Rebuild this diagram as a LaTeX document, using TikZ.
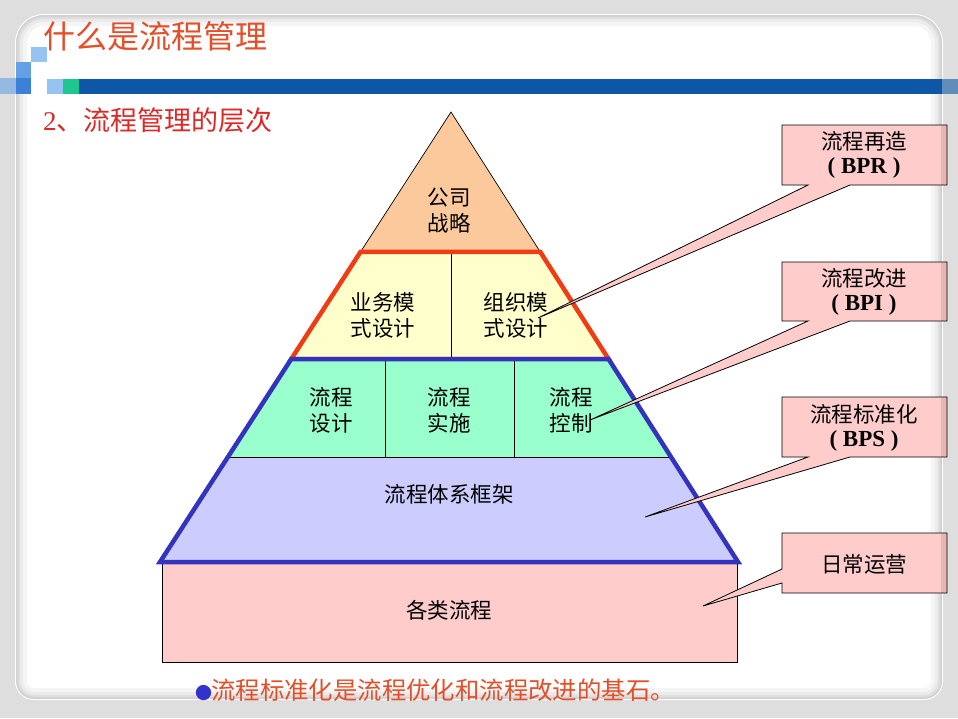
\documentclass[tikz,border=0pt]{standalone}
\usepackage{fontspec}
\setmainfont{Liberation Serif}
\newfontfamily\cjk{Noto Sans CJK SC}
\usetikzlibrary{calc}
\definecolor{bgchk}{RGB}{222,222,222}
\definecolor{titlered}{RGB}{228,78,40}
\definecolor{subred}{RGB}{222,40,40}
\definecolor{barblue}{RGB}{14,86,166}
\definecolor{sqlight}{RGB}{150,196,240}
\definecolor{sqmid}{RGB}{100,160,230}
\definecolor{sqblue}{RGB}{60,128,216}
\definecolor{sqgreen}{RGB}{28,200,142}
\definecolor{topor}{RGB}{251,201,156}
\definecolor{yelfill}{RGB}{255,255,204}
\definecolor{redline}{RGB}{240,60,20}
\definecolor{grnfill}{RGB}{153,255,204}
\definecolor{lavfill}{RGB}{204,204,255}
\definecolor{blueline}{RGB}{51,51,190}
\definecolor{pinkfill}{RGB}{255,204,204}
\definecolor{bulblue}{RGB}{51,51,204}
\begin{document}
\begin{tikzpicture}[x=1pt,y=-1pt,
  lbl/.style={font=\cjk\fontsize{21.5}{26}\selectfont, align=center, inner sep=0pt, text=black},
  clbl/.style={font=\fontsize{21.5}{24}\selectfont, align=center, inner sep=0pt, text=black},
  calloutbox/.style={fill=pinkfill, draw=black, line width=0.8pt, line join=miter},
  thinline/.style={draw=black, line width=0.7pt},
  boldline/.style={line width=4.5pt, line join=miter}]
\useasboundingbox (0,0) rectangle (958,718);
% background and panel
\fill[bgchk] (0,0) rectangle (958,718);
\def\panelpath{(16,400) [rounded corners=28pt] |- (479,15) -| (942,400) [rounded corners=18pt] |- (479,699) -| (16,400)}
\draw[white, line width=2pt, fill=white] \panelpath;
\begin{scope}
  \clip \panelpath;
  \draw[black, opacity=0.04, line width=22pt] \panelpath;
  \draw[black, opacity=0.04, line width=14pt] \panelpath;
  \draw[black, opacity=0.05, line width=8pt] \panelpath;
  \draw[black, opacity=0.05, line width=4pt] \panelpath;
\end{scope}
% decoration squares and bar
\fill[sqlight] (31,47) rectangle (47,62);
\fill[sqmid] (16,62) rectangle (31,78);
\fill[sqblue] (16,78) rectangle (31,94);
\fill[sqmid!60!bgchk] (0,78) rectangle (16,94);
\fill[sqlight] (47,79) rectangle (63,94);
\fill[sqgreen] (63,79) rectangle (79,94);
\fill[barblue] (79,79) rectangle (942,94);
\fill[barblue!60!bgchk] (942,79) rectangle (958,94);
% titles
\node[anchor=west, inner sep=0pt, text=titlered, font=\cjk\fontsize{32}{32}\selectfont] (title) at (43,36) {什么是流程管理};
\node[anchor=west, inner sep=0pt, text=subred, font=\fontsize{27}{27}\selectfont] (subtitle) at (43,120) {2{\cjk 、流程管理的层次}};
% pyramid geometry
\coordinate (apex) at (451,112);
\coordinate (bl) at (160,562);
\coordinate (br) at (738,562);
\coordinate (t1l) at ($(apex)!0.3111!(bl)$);
\coordinate (t1r) at ($(apex)!0.3111!(br)$);
\coordinate (t2l) at ($(apex)!0.5489!(bl)$);
\coordinate (t2r) at ($(apex)!0.5489!(br)$);
\coordinate (t3l) at ($(apex)!0.7667!(bl)$);
\coordinate (t3r) at ($(apex)!0.7667!(br)$);
% top triangle
\draw[thinline, fill=topor] (apex) -- (t1r) -- (t1l) -- cycle;
% red trapezoid
\fill[yelfill] (t1l) -- (t1r) -- (t2r) -- (t2l) -- cycle;
\coordinate (d1a) at (451,252);
\coordinate (d1b) at (451,359);
\draw[thinline] (d1a) -- (d1b);
\draw[boldline, draw=redline] (t1l) -- (t1r) -- (t2r) -- (t2l) -- cycle;
% blue trapezoid
\fill[grnfill] (t2l) -- (t2r) -- (t3r) -- (t3l) -- cycle;
\fill[lavfill] (t3l) -- (t3r) -- (br) -- (bl) -- cycle;
\draw[thinline] (t3l) -- (t3r);
\coordinate (d2a) at (385,359);
\coordinate (d2b) at (385,457);
\coordinate (d3a) at (514,359);
\coordinate (d3b) at (514,457);
\draw[thinline] (d2a) -- (d2b);
\draw[thinline] (d3a) -- (d3b);
% base rectangle
\draw[thinline, fill=pinkfill] (162,562) rectangle (737,662);
\draw[boldline, draw=blueline] (t2l) -- (t2r) -- (br) -- (bl) -- cycle;
% labels
\node[lbl] (strat) at (449,211) {公司\\战略};
\node[lbl] (yewu) at (383,315) {业务模\\式设计};
\node[lbl] (zuzhi) at (516,315) {组织模\\式设计};
\node[lbl] (lcsj) at (331,410) {流程\\设计};
\node[lbl] (lcss) at (449,410) {流程\\实施};
\node[lbl] (lckz) at (571,410) {流程\\控制};
\node[lbl] (tixi) at (449,494) {流程体系框架};
\node[lbl] (gelei) at (449,610) {各类流程};
% callouts
\coordinate (tipA) at (538,318);
\coordinate (tipB) at (590,420);
\coordinate (tipC) at (645,517);
\coordinate (tipD) at (703,606);
\path[calloutbox] (808,185) -- (782,185) -- (782,125) -- (947,125) -- (947,185) -- (850,185) -- (tipA) -- cycle;
\path[calloutbox] (808,321) -- (782,321) -- (782,262) -- (947,262) -- (947,321) -- (850,321) -- (tipB) -- cycle;
\path[calloutbox] (808,457) -- (782,457) -- (782,397) -- (947,397) -- (947,457) -- (850,457) -- (tipC) -- cycle;
\path[calloutbox] (782,569) -- (782,533) -- (947,533) -- (947,593) -- (782,593) -- (782,583) -- (tipD) -- cycle;
\node[clbl] (bpr) at (864,155) {{\cjk 流程再造}\\{\fontsize{23}{24}\selectfont\bfseries ( BPR )}};
\node[clbl] (bpi) at (864,292) {{\cjk 流程改进}\\{\fontsize{23}{24}\selectfont\bfseries ( BPI )}};
\node[clbl] (bps) at (864,428) {{\cjk 流程标准化}\\{\fontsize{23}{24}\selectfont\bfseries ( BPS )}};
\node[lbl] (richang) at (864,564) {日常运营};
% right panel shadow over callouts
\fill[black, opacity=0.10] (941,125.4) rectangle (946.6,184.6);
\fill[black, opacity=0.10] (941,262.4) rectangle (946.6,320.6);
\fill[black, opacity=0.10] (941,397.4) rectangle (946.6,456.6);
\fill[black, opacity=0.10] (941,533.4) rectangle (946.6,592.6);
% bottom note
\node[anchor=west, inner sep=0pt, font=\cjk\fontsize{24.4}{24}\selectfont] (note) at (195,690) {{\color{bulblue}\fontsize{17}{17}\selectfont ●}\kern-1pt{\color{titlered}流程标准化是流程优化和流程改进的基石。}};
\end{tikzpicture}
\end{document}
